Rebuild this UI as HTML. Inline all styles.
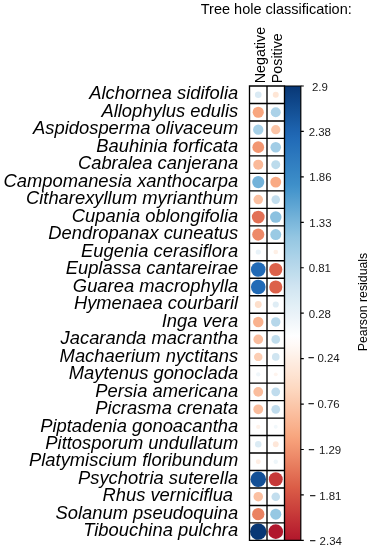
<!DOCTYPE html>
<html lang="en"><head><meta charset="utf-8"><title>Tree hole classification</title>
<style>html,body{margin:0;padding:0;background:#fff}svg{display:block}</style></head>
<body>
<svg width="372" height="550" viewBox="0 0 372 550">
<rect width="372" height="550" fill="#fff"/>
<defs><linearGradient id="cb" x1="0" y1="0" x2="0" y2="1"><stop offset="0.0000" stop-color="#083775"/><stop offset="0.0167" stop-color="#0C3F7F"/><stop offset="0.0333" stop-color="#0F4689"/><stop offset="0.0500" stop-color="#134E92"/><stop offset="0.0667" stop-color="#16559C"/><stop offset="0.0833" stop-color="#1A5DA6"/><stop offset="0.1000" stop-color="#1E64B0"/><stop offset="0.1167" stop-color="#226BB7"/><stop offset="0.1333" stop-color="#2671BA"/><stop offset="0.1500" stop-color="#2B77BD"/><stop offset="0.1667" stop-color="#307DC0"/><stop offset="0.1833" stop-color="#3483C3"/><stop offset="0.2000" stop-color="#3989C6"/><stop offset="0.2167" stop-color="#3E8FC9"/><stop offset="0.2333" stop-color="#4897CD"/><stop offset="0.2500" stop-color="#559FD0"/><stop offset="0.2667" stop-color="#61A7D4"/><stop offset="0.2833" stop-color="#6EAFD7"/><stop offset="0.3000" stop-color="#7BB7DB"/><stop offset="0.3167" stop-color="#87BFDF"/><stop offset="0.3333" stop-color="#94C6E2"/><stop offset="0.3500" stop-color="#9DCBE4"/><stop offset="0.3667" stop-color="#A6D0E7"/><stop offset="0.3833" stop-color="#B0D4E9"/><stop offset="0.4000" stop-color="#B9D9EB"/><stop offset="0.4167" stop-color="#C2DEED"/><stop offset="0.4333" stop-color="#CCE2F0"/><stop offset="0.4500" stop-color="#D4E7F2"/><stop offset="0.4667" stop-color="#DBEBF4"/><stop offset="0.4833" stop-color="#E2EFF6"/><stop offset="0.5000" stop-color="#E9F2F8"/><stop offset="0.5167" stop-color="#F0F6FA"/><stop offset="0.5333" stop-color="#F7FAFC"/><stop offset="0.5500" stop-color="#FEFEFF"/><stop offset="0.5667" stop-color="#FFFAF8"/><stop offset="0.5833" stop-color="#FEF5EF"/><stop offset="0.6000" stop-color="#FEEFE5"/><stop offset="0.6167" stop-color="#FEE9DC"/><stop offset="0.6333" stop-color="#FEE4D3"/><stop offset="0.6500" stop-color="#FDDECA"/><stop offset="0.6667" stop-color="#FDD8C0"/><stop offset="0.6833" stop-color="#FCD0B6"/><stop offset="0.7000" stop-color="#FBC8AB"/><stop offset="0.7167" stop-color="#FBC0A1"/><stop offset="0.7333" stop-color="#FAB896"/><stop offset="0.7500" stop-color="#F9B08C"/><stop offset="0.7667" stop-color="#F8A881"/><stop offset="0.7833" stop-color="#F69E78"/><stop offset="0.8000" stop-color="#F19470"/><stop offset="0.8167" stop-color="#ED8968"/><stop offset="0.8333" stop-color="#E87E5F"/><stop offset="0.8500" stop-color="#E47357"/><stop offset="0.8667" stop-color="#DF684F"/><stop offset="0.8833" stop-color="#DB5D47"/><stop offset="0.9000" stop-color="#D55343"/><stop offset="0.9167" stop-color="#CF493F"/><stop offset="0.9333" stop-color="#CA3F3B"/><stop offset="0.9500" stop-color="#C43437"/><stop offset="0.9667" stop-color="#BE2A33"/><stop offset="0.9833" stop-color="#B8202F"/><stop offset="1.0000" stop-color="#B1172C"/></linearGradient></defs>
<rect x="284.5" y="86.0" width="16.30" height="454.40" fill="url(#cb)"/>
<circle cx="258.25" cy="94.74" r="3.33" fill="#DAEAF4"/>
<circle cx="275.75" cy="94.74" r="2.99" fill="#FEE6D6"/>
<circle cx="258.25" cy="112.22" r="5.57" fill="#F8A67F"/>
<circle cx="275.75" cy="112.22" r="5.00" fill="#ACD2E8"/>
<circle cx="258.25" cy="129.69" r="5.16" fill="#A6D0E7"/>
<circle cx="275.75" cy="129.69" r="4.64" fill="#FBC4A6"/>
<circle cx="258.25" cy="147.17" r="5.87" fill="#F29671"/>
<circle cx="275.75" cy="147.17" r="5.28" fill="#A2CDE6"/>
<circle cx="258.25" cy="164.65" r="5.01" fill="#FAB998"/>
<circle cx="275.75" cy="164.65" r="4.50" fill="#BCDBEC"/>
<circle cx="258.25" cy="182.12" r="6.08" fill="#73B2D9"/>
<circle cx="275.75" cy="182.12" r="5.46" fill="#F9AA84"/>
<circle cx="258.25" cy="199.60" r="4.76" fill="#FBC0A1"/>
<circle cx="275.75" cy="199.60" r="4.28" fill="#C3DEEE"/>
<circle cx="258.25" cy="217.08" r="6.40" fill="#E27055"/>
<circle cx="275.75" cy="217.08" r="5.75" fill="#8BC1E0"/>
<circle cx="258.25" cy="234.55" r="6.08" fill="#ED8968"/>
<circle cx="275.75" cy="234.55" r="5.46" fill="#9ACAE4"/>
<circle cx="258.25" cy="252.03" r="2.59" fill="#E8F2F8"/>
<circle cx="275.75" cy="252.03" r="2.33" fill="#FEF0E6"/>
<circle cx="258.25" cy="269.51" r="7.32" fill="#216AB6"/>
<circle cx="275.75" cy="269.51" r="6.57" fill="#DC614A"/>
<circle cx="258.25" cy="286.98" r="7.32" fill="#216AB6"/>
<circle cx="275.75" cy="286.98" r="6.57" fill="#DC614A"/>
<circle cx="258.25" cy="304.46" r="3.43" fill="#FDDFCB"/>
<circle cx="275.75" cy="304.46" r="3.08" fill="#DFEDF5"/>
<circle cx="258.25" cy="321.94" r="5.24" fill="#F9B28E"/>
<circle cx="275.75" cy="321.94" r="4.70" fill="#B6D7EA"/>
<circle cx="258.25" cy="339.42" r="4.86" fill="#FABD9E"/>
<circle cx="275.75" cy="339.42" r="4.36" fill="#C0DDED"/>
<circle cx="258.25" cy="356.89" r="4.23" fill="#FCCEB4"/>
<circle cx="275.75" cy="356.89" r="3.80" fill="#D0E5F1"/>
<circle cx="258.25" cy="374.37" r="2.17" fill="#EFF6FA"/>
<circle cx="275.75" cy="374.37" r="1.95" fill="#FEF4EE"/>
<circle cx="258.25" cy="391.85" r="4.89" fill="#FABD9D"/>
<circle cx="275.75" cy="391.85" r="4.39" fill="#C0DCED"/>
<circle cx="258.25" cy="409.32" r="4.89" fill="#FABD9D"/>
<circle cx="275.75" cy="409.32" r="4.39" fill="#C0DCED"/>
<circle cx="258.25" cy="426.80" r="2.17" fill="#FEF2EA"/>
<circle cx="275.75" cy="426.80" r="1.95" fill="#F2F8FB"/>
<circle cx="258.25" cy="444.28" r="3.24" fill="#DBEBF4"/>
<circle cx="275.75" cy="444.28" r="2.91" fill="#FEE7D9"/>
<circle cx="258.25" cy="461.75" r="2.46" fill="#FEEEE4"/>
<circle cx="275.75" cy="461.75" r="2.21" fill="#EEF6FA"/>
<circle cx="258.25" cy="479.23" r="7.77" fill="#145096"/>
<circle cx="275.75" cy="479.23" r="6.98" fill="#C63838"/>
<circle cx="258.25" cy="496.71" r="4.76" fill="#FBC0A1"/>
<circle cx="275.75" cy="496.71" r="4.28" fill="#C3DEEE"/>
<circle cx="258.25" cy="514.18" r="6.17" fill="#EA8262"/>
<circle cx="275.75" cy="514.18" r="5.55" fill="#96C8E3"/>
<circle cx="258.25" cy="531.66" r="8.20" fill="#083775"/>
<circle cx="275.75" cy="531.66" r="7.37" fill="#B1172C"/>
<path d="M248.82 86.00H285.18M248.82 103.48H285.18M248.82 120.95H285.18M248.82 138.43H285.18M248.82 155.91H285.18M248.82 173.38H285.18M248.82 190.86H285.18M248.82 208.34H285.18M248.82 225.82H285.18M248.82 243.29H285.18M248.82 260.77H285.18M248.82 278.25H285.18M248.82 295.72H285.18M248.82 313.20H285.18M248.82 330.68H285.18M248.82 348.15H285.18M248.82 365.63H285.18M248.82 383.11H285.18M248.82 400.58H285.18M248.82 418.06H285.18M248.82 435.54H285.18M248.82 453.02H285.18M248.82 470.49H285.18M248.82 487.97H285.18M248.82 505.45H285.18M248.82 522.92H285.18M248.82 540.40H285.18M249.50 86.00V540.40M267.00 86.00V540.40M284.50 86.00V540.40" stroke="#000" stroke-width="1.35" fill="none"/>
<path d="M284.50 86.00H300.80V540.40H284.50" stroke="#000" stroke-width="1.2" fill="none"/>
<path d="M300.80 86.00H303.80M300.80 131.44H303.80M300.80 176.88H303.80M300.80 222.32H303.80M300.80 267.76H303.80M300.80 313.20H303.80M300.80 358.64H303.80M300.80 404.08H303.80M300.80 449.52H303.80M300.80 494.96H303.80M300.80 540.40H303.80" stroke="#000" stroke-width="1.2" fill="none"/>
<g font-family="'Liberation Sans', Arial, sans-serif" fill="#1a1a1a">
<text x="312.0" y="90.60" font-size="11.45">2.9</text>
<text x="308.7" y="135.74" font-size="11.45">2.38</text>
<text x="309.3" y="181.48" font-size="11.45">1.86</text>
<text x="309.3" y="226.52" font-size="11.45">1.33</text>
<text x="308.7" y="272.26" font-size="11.45">0.81</text>
<text x="308.7" y="317.90" font-size="11.45">0.28</text>
<text y="362.14" font-size="11.45"><tspan x="308.4" dy="-0.9" font-size="9.8" stroke="#1a1a1a" stroke-width="0.5">−</tspan><tspan x="317.4" dy="0.9">0.24</tspan></text>
<text y="407.68" font-size="11.45"><tspan x="308.4" dy="-0.9" font-size="9.8" stroke="#1a1a1a" stroke-width="0.5">−</tspan><tspan x="317.4" dy="0.9">0.76</tspan></text>
<text y="453.62" font-size="11.45"><tspan x="308.7" dy="-0.9" font-size="9.8" stroke="#1a1a1a" stroke-width="0.5">−</tspan><tspan x="318.9" dy="0.9">1.29</tspan></text>
<text y="499.66" font-size="11.45"><tspan x="310.0" dy="-0.9" font-size="9.8" stroke="#1a1a1a" stroke-width="0.5">−</tspan><tspan x="319.2" dy="0.9">1.81</tspan></text>
<text y="545.30" font-size="11.45"><tspan x="310.0" dy="-0.9" font-size="9.8" stroke="#1a1a1a" stroke-width="0.5">−</tspan><tspan x="319.6" dy="0.9">2.34</tspan></text>
</g>
<g font-family="'Liberation Sans', Arial, sans-serif" font-style="italic" font-size="18.38" fill="#000" text-anchor="end">
<text x="238.2" y="99.44">Alchornea sidifolia</text>
<text x="238.2" y="116.92">Allophylus edulis</text>
<text x="238.2" y="134.39">Aspidosperma olivaceum</text>
<text x="238.2" y="151.87">Bauhinia forficata</text>
<text x="238.2" y="169.35">Cabralea canjerana</text>
<text x="238.2" y="186.82">Campomanesia xanthocarpa</text>
<text x="238.2" y="204.30">Citharexyllum myrianthum</text>
<text x="238.2" y="221.78">Cupania oblongifolia</text>
<text x="238.2" y="239.25">Dendropanax cuneatus</text>
<text x="238.2" y="256.73">Eugenia cerasiflora</text>
<text x="238.2" y="274.21">Euplassa cantareirae</text>
<text x="238.2" y="291.68">Guarea macrophylla</text>
<text x="238.2" y="309.16">Hymenaea courbaril</text>
<text x="238.2" y="326.64">Inga vera</text>
<text x="238.2" y="344.12">Jacaranda macrantha</text>
<text x="238.2" y="361.59">Machaerium nyctitans</text>
<text x="238.2" y="379.07">Maytenus gonoclada</text>
<text x="238.2" y="396.55">Persia americana</text>
<text x="238.2" y="414.02">Picrasma crenata</text>
<text x="238.2" y="431.50">Piptadenia gonoacantha</text>
<text x="238.2" y="448.98">Pittosporum undullatum</text>
<text x="238.2" y="466.45">Platymiscium floribundum</text>
<text x="238.2" y="483.93">Psychotria suterella</text>
<text x="233.1" y="501.41">Rhus verniciflua</text>
<text x="238.2" y="518.88">Solanum pseudoquina</text>
<text x="238.2" y="536.36">Tibouchina pulchra</text>
</g>
<g font-family="'Liberation Sans', Arial, sans-serif" fill="#000">
<text transform="translate(265.0 83.2) rotate(-90) scale(0.93 1)" font-size="15.35">Negative</text>
<text transform="translate(282.3 83.2) rotate(-90) scale(0.93 1)" font-size="15.35">Positive</text>
<text x="200.8" y="14.4" font-size="14.5">Tree hole classification:</text>
</g>
<text transform="translate(367.1 351.2) rotate(-90) scale(0.972 1)" font-family="'Liberation Sans', Arial, sans-serif" font-size="12.65" fill="#000">Pearson residuals</text>
</svg>
</body></html>
